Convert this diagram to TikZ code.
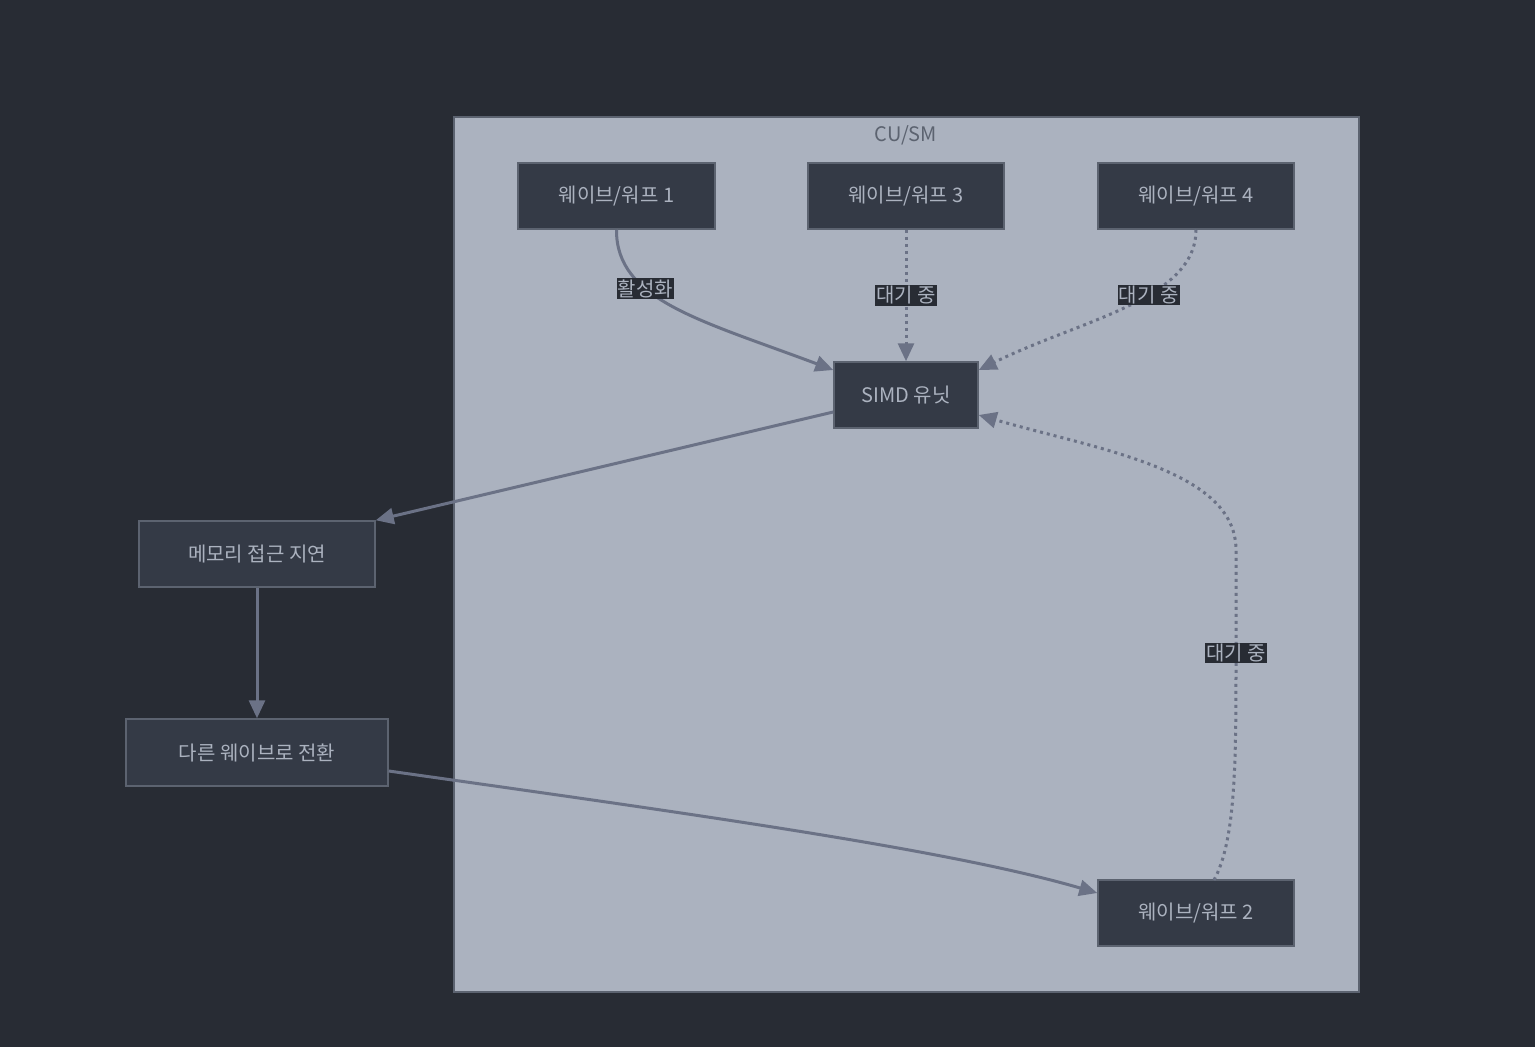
\documentclass[tikz,border=0pt]{standalone}
\usepackage{fontspec}
\newfontfamily\kr{Noto Sans CJK KR}
\usetikzlibrary{arrows.meta}
\definecolor{bg}{HTML}{282C34}
\definecolor{clu}{HTML}{ABB2BF}
\definecolor{nfill}{HTML}{343A46}
\definecolor{nline}{HTML}{5C6370}
\definecolor{edge}{HTML}{6B7286}
\definecolor{txt}{HTML}{ABB2BF}
\tikzset{
  box/.style={draw=nline,fill=nfill,line width=1.5pt,text=txt,font=\kr\fontsize{20}{24}\selectfont,inner sep=0pt},
  conn/.style={draw=edge,line width=3pt,-{Triangle[length=18pt,width=16pt]}},
  dconn/.style={conn,dash pattern=on 3pt off 4pt},
  lab/.style={fill=bg,text=txt,font=\kr\fontsize{20}{22}\selectfont,inner sep=1pt}
}
\begin{document}
\begin{tikzpicture}[x=1pt,y=-1pt]
\fill[bg] (0,0) rectangle (1535,1047);
\useasboundingbox (0,0) rectangle (1535,1047);
\draw[fill=clu,draw=nline,line width=1.5pt] (454,117) rectangle (1359,992);
\node[text=nline,font=\kr\fontsize{20}{24}\selectfont] (cl) at (906,135) {CU/SM};
\node[box,minimum width=197pt,minimum height=66pt] (w1) at (616.5,196) {웨이브/워프 1};
\node[box,minimum width=196pt,minimum height=66pt] (w3) at (906,196) {웨이브/워프 3};
\node[box,minimum width=196pt,minimum height=66pt] (w4) at (1196,196) {웨이브/워프 4};
\node[box,minimum width=144pt,minimum height=66pt] (simd) at (906,395) {SIMD 유닛};
\node[box,minimum width=236pt,minimum height=66pt] (mem) at (257,554) {메모리 접근 지연};
\node[box,minimum width=262pt,minimum height=67pt] (sw) at (257,752.5) {다른 웨이브로 전환};
\node[box,minimum width=196pt,minimum height=66pt] (w2) at (1196,913) {웨이브/워프 2};
\draw[conn] (w1.south) .. controls (616,300) and (700,320) .. (simd.west |- 0,370) node[lab,pos=0.35] {활성화};
\draw[dconn] (w3.south) -- (simd.north) node[lab,midway] {대기 중};
\draw[dconn] (w4.south) .. controls (1196,300) and (1080,320) .. (simd.east |- 0,370) node[lab,pos=0.4] {대기 중};
\draw[conn] (simd.west |- 0,412) -- (mem.north east);
\draw[conn] (mem.south) -- (sw.north);
\draw[conn] (sw.east |- 0,771) .. controls (700,815) and (950,850) .. (w2.west |- 0,893);
\draw[dconn] (w2.north |- 0,880) ++(18,0) .. controls (1236,840) and (1236,760) .. (1236,653) node[lab] {대기 중} -- (1236,550) .. controls (1236,470) and (1100,450) .. (simd.east |- 0,415);
\end{tikzpicture}
\end{document}
